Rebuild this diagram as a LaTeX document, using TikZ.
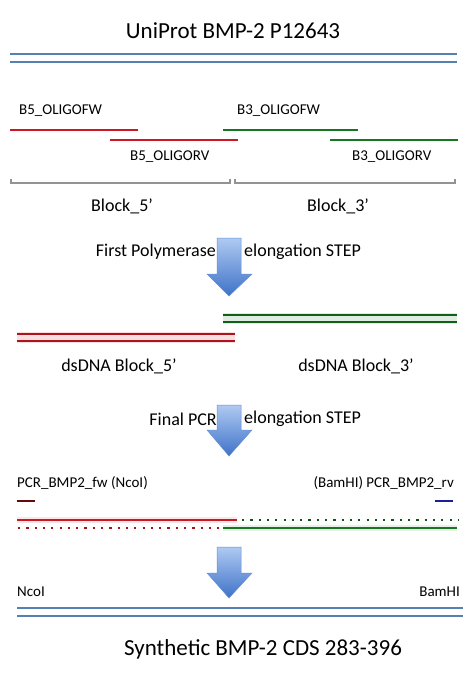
\documentclass[tikz,border=0pt]{standalone}
\usepackage{fontspec}
\setmainfont{Carlito}
\usepackage{xcolor}
\usetikzlibrary{positioning}
\definecolor{dnablue}{RGB}{84,128,178}
\definecolor{dnared}{RGB}{204,24,36}
\definecolor{dnagreen}{RGB}{22,118,34}
\definecolor{fwred}{RGB}{100,10,10}
\definecolor{rvblue}{RGB}{30,30,150}
\definecolor{arrowtop}{RGB}{175,202,242}
\definecolor{arrowbot}{RGB}{62,114,200}
\tikzset{
    small/.style={inner sep=0pt, font=\fontsize{15}{17}\selectfont},
    medium/.style={inner sep=0pt, font=\fontsize{18}{20}\selectfont},
    big/.style={inner sep=0pt, font=\fontsize{23}{26}\selectfont},
    bluestrand/.style={draw=dnablue, line width=2.8pt},
    oligo/.style={line width=2.8pt},
    glow/.style={line width=11pt, opacity=0.35},
    dots/.style={line width=2.2pt, dash pattern=on 2.2pt off 6.1pt},
    bracket/.style={draw=gray!85, line width=2.4pt},
    blockarrow/.style={top color=arrowtop, bottom color=arrowbot, draw=arrowbot!80!white, line width=0.5pt}
}
\begin{document}
\begin{tikzpicture}[x=1pt, y=-1pt]
\useasboundingbox (0,0) rectangle (474,697);
% source sequence
\node[big] (uniprot) at (233,31) {UniProt BMP-2 P12643};
\draw[bluestrand] (10,54) -- (457,54);
\draw[bluestrand] (10,62) -- (457,62);
% oligos
\node[small, anchor=west] (b5fw) at (19,111) {B5\_OLIGOFW};
\node[small, anchor=west] (b5rv) at (130,157) {B5\_OLIGORV};
\node[small, anchor=west] (b3fw) at (237,111) {B3\_OLIGOFW};
\node[small, anchor=west] (b3rv) at (352,157) {B3\_OLIGORV};
\draw[oligo, dnared] (10,130) -- (138,130);
\draw[oligo, dnared] (110,140) -- (238,140);
\draw[oligo, dnagreen] (223,130) -- (358,130);
\draw[oligo, dnagreen] (330,140) -- (458,140);
% blocks
\draw[bracket] (11,179) -- (11,183) -- (230,183) -- (230,179);
\draw[bracket] (235,179) -- (235,183) -- (455,183) -- (455,179);
\node[medium] (block5) at (122,206) {Block\_5’};
\node[medium] (block3) at (338,206) {Block\_3’};
% first step
\node[medium, anchor=east] (step1a) at (216,252) {First Polymerase};
\node[medium, anchor=west] (step1b) at (244,252) {elongation STEP};
\path[blockarrow] (217,238) -- (241,238) -- (241,274) -- (252,274) -- (229,296) -- (207,274) -- (217,274) -- cycle;
% dsDNA blocks
\draw[glow, dnagreen!40] (223,318) -- (457,318);
\draw[oligo, dnagreen!80!black] (223,315) -- (457,315);
\draw[oligo, dnagreen!80!black] (223,322) -- (457,322);
\draw[glow, dnared!40] (17,337) -- (235,337);
\draw[oligo, dnared!85!black] (17,334) -- (235,334);
\draw[oligo, dnared!85!black] (17,341) -- (235,341);
\node[medium] (ds5) at (119,366) {dsDNA Block\_5’};
\node[medium] (ds3) at (356,366) {dsDNA Block\_3’};
% final step
\node[medium, anchor=east] (step2a) at (217,419) {Final PCR};
\node[medium, anchor=west] (step2b) at (244,419) {elongation STEP};
\path[blockarrow] (217,405) -- (241,405) -- (241,430) -- (252,430) -- (229,456) -- (207,430) -- (217,430) -- cycle;
% PCR primers
\node[small, anchor=west] (pcrfw) at (17,483) {PCR\_BMP2\_fw (NcoI)};
\node[small, anchor=east] (pcrrv) at (454,483) {(BamHI) PCR\_BMP2\_rv};
\draw[oligo, fwred] (17,501) -- (35,501);
\draw[oligo, rvblue] (435,501) -- (453,501);
\draw[glow, dnared!30, line width=6pt] (17,520) -- (237,520);
\draw[oligo, dnared] (17,520) -- (237,520);
\draw[dots, dnagreen!70!black] (242,520) -- (458,520);
\draw[dots, dnared!80!black] (18,528) -- (225,528);
\draw[glow, dnagreen!30, line width=6pt] (223,528) -- (457,528);
\draw[oligo, dnagreen] (223,528) -- (457,528);
% product
\path[blockarrow] (217,547) -- (241,547) -- (241,573) -- (252,573) -- (229,598) -- (207,573) -- (217,573) -- cycle;
\node[small, anchor=west] (ncoi) at (17,592) {NcoI};
\node[small, anchor=east] (bamhi) at (460,592) {BamHI};
\draw[bluestrand] (17,608) -- (463,608);
\draw[bluestrand] (17,616) -- (463,616);
\node[big] (synthetic) at (263,649) {Synthetic BMP-2 CDS 283-396};
\end{tikzpicture}
\end{document}
